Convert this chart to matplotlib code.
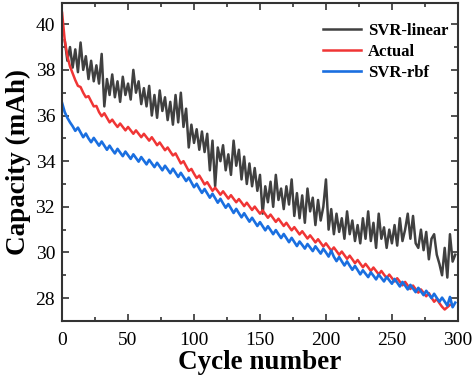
import numpy as np
import matplotlib
matplotlib.use("Agg")
import matplotlib.pyplot as plt
from matplotlib.ticker import MultipleLocator

# Capacity curves (every 2nd cycle)
cycle_actual = np.arange(0, 296, 2)
cap_actual = [
    40.5, 39.3, 38.6, 38.15, 37.85, 37.55, 37.3, 37.25, 37.0, 36.8,
    36.85, 36.62, 36.4, 36.42, 36.15, 35.97, 36.1, 35.9, 35.7, 35.82,
    35.65, 35.5, 35.65, 35.5, 35.35, 35.5, 35.35, 35.2, 35.35, 35.2,
    35.05, 35.2, 35.05, 34.9, 35.05, 34.88, 34.7, 34.82, 34.65, 34.48,
    34.6, 34.42, 34.25, 34.34, 34.12, 33.9, 34.0, 33.78, 33.57, 33.66,
    33.45, 33.26, 33.37, 33.18, 32.98, 33.08, 32.89, 32.7, 32.84, 32.69,
    32.53, 32.68, 32.52, 32.36, 32.51, 32.35, 32.2, 32.34, 32.19, 32.03,
    32.18, 32.02, 31.86, 32.01, 31.85, 31.7, 31.84, 31.68, 31.52, 31.66,
    31.5, 31.34, 31.48, 31.32, 31.16, 31.3, 31.13, 30.97, 31.11, 30.95,
    30.79, 30.93, 30.77, 30.61, 30.75, 30.6, 30.44, 30.58, 30.42, 30.26,
    30.4, 30.24, 30.08, 30.22, 30.06, 29.9, 30.04, 29.88, 29.72, 29.86,
    29.7, 29.53, 29.67, 29.51, 29.35, 29.5, 29.35, 29.19, 29.34, 29.19,
    29.04, 29.19, 29.03, 28.88, 29.03, 28.88, 28.73, 28.87, 28.72, 28.56,
    28.71, 28.55, 28.4, 28.55, 28.39, 28.24, 28.38, 28.23, 28.08, 28.22,
    28.02, 27.84, 27.96, 27.78, 27.62, 27.5, 27.6, 27.7,
]

cycle_rbf = np.arange(0, 300, 2)
cap_rbf = [
    36.55, 36.15, 35.9, 35.7, 35.53, 35.33, 35.47, 35.26, 35.05, 35.21,
    35.0, 34.83, 35.02, 34.85, 34.68, 34.86, 34.68, 34.5, 34.68, 34.5,
    34.34, 34.54, 34.38, 34.22, 34.42, 34.26, 34.1, 34.3, 34.14, 33.98,
    34.18, 34.02, 33.86, 34.06, 33.9, 33.74, 33.93, 33.77, 33.6, 33.8,
    33.64, 33.47, 33.67, 33.49, 33.31, 33.49, 33.31, 33.13, 33.28, 33.07,
    32.86, 33.01, 32.8, 32.61, 32.78, 32.59, 32.4, 32.57, 32.38, 32.18,
    32.35, 32.15, 31.96, 32.12, 31.93, 31.73, 31.91, 31.72, 31.54, 31.72,
    31.53, 31.35, 31.52, 31.34, 31.16, 31.33, 31.15, 30.97, 31.15, 30.98,
    30.8, 30.98, 30.8, 30.63, 30.81, 30.63, 30.45, 30.64, 30.46, 30.28,
    30.48, 30.33, 30.17, 30.37, 30.22, 30.06, 30.27, 30.11, 29.95, 30.16,
    30.0, 29.82, 30.08, 29.81, 29.62, 29.8, 29.61, 29.43, 29.61, 29.42,
    29.24, 29.41, 29.23, 29.04, 29.22, 29.07, 28.92, 29.13, 28.98, 28.82,
    29.03, 28.88, 28.73, 28.93, 28.78, 28.63, 28.84, 28.68, 28.51, 28.71,
    28.55, 28.38, 28.58, 28.42, 28.26, 28.45, 28.29, 28.13, 28.32, 28.16,
    28.0, 28.19, 28.01, 27.84, 28.02, 27.85, 27.67, 28.05, 27.6, 27.8,
]

cycle_linear = np.arange(2, 300, 2)
cap_linear = [
    39.3, 38.4, 39.0, 38.1, 38.9, 37.9, 39.2,
    38.0, 38.6, 37.6, 38.4, 37.5, 38.2, 37.4, 38.7,
    36.4, 37.6, 36.9, 37.8, 36.8, 37.5, 36.6, 37.7, 36.9, 37.4,
    36.7, 38.0, 37.0, 37.5, 36.5, 37.2, 36.4,
    37.3, 36.0, 36.9, 35.9, 37.1, 36.2, 36.8, 35.8,
    36.6, 35.6, 36.9, 35.7, 37.0, 35.5, 36.3,
    34.6, 35.6, 34.8, 35.4, 34.5, 35.3, 34.4, 35.2,
    33.6, 34.9, 32.9, 34.6, 34.0,
    34.7, 33.6, 34.3, 33.4, 34.9, 33.8, 34.5,
    33.2, 34.2, 33.0, 33.9, 32.9, 33.7, 32.7, 33.4,
    31.7, 32.9, 32.2, 33.1, 32.0, 33.4, 32.3, 32.8, 31.9, 32.9, 32.1, 33.2,
    31.6, 32.6, 31.5, 32.5, 31.3, 32.8, 31.8, 32.4, 31.2, 32.3, 31.4, 32.0, 33.2,
    31.0, 31.9, 30.8, 31.7, 30.9, 31.5, 30.6, 31.8, 30.8, 31.4, 30.5, 31.2,
    30.4, 31.5, 30.6, 31.8, 30.5, 31.3, 30.2, 31.7, 30.6, 31.1, 30.2, 31.0, 30.4,
    31.2, 30.3, 31.5, 30.5, 31.0, 31.7, 30.6, 31.6, 30.4, 30.2,
    31.0, 30.1, 30.9, 29.7, 30.6, 30.8, 29.9,
    29.5, 29.0, 30.2, 28.9, 30.8, 29.6, 29.9,
]

plt.rcParams['font.family'] = ['Liberation Serif', 'DejaVu Serif']

fig = plt.figure(figsize=(4.74, 3.78), dpi=100)
ax = fig.add_axes([0.131, 0.151, 0.835, 0.841])

ax.plot(cycle_linear, cap_linear, color='#404040', lw=1.8, label='SVR-linear')
ax.plot(cycle_actual, cap_actual, color='#f03535', lw=1.8, label='Actual')
ax.plot(cycle_rbf, cap_rbf, color='#1a6fe0', lw=1.9, label='SVR-rbf')

ax.set_xlim(0, 300)
ax.set_ylim(27, 40.93)
ax.xaxis.set_major_locator(MultipleLocator(50))
ax.xaxis.set_minor_locator(MultipleLocator(25))
ax.yaxis.set_major_locator(MultipleLocator(2))
ax.yaxis.set_minor_locator(MultipleLocator(1))
ax.tick_params(which='both', direction='in', top=True, right=True,
               width=1.2, color='#333333', labelsize=14)
ax.tick_params(which='major', length=5)
ax.tick_params(which='minor', length=3)
ax.tick_params(axis='x', pad=8)
ax.tick_params(axis='y', pad=5)
for s in ax.spines.values():
    s.set_linewidth(1.5)
    s.set_color('#333333')

ax.set_xlabel('Cycle number', fontsize=19.5, fontweight='bold', labelpad=1)
ax.set_ylabel('Capacity (mAh)', fontsize=19.5, fontweight='bold', labelpad=3)

leg = ax.legend(loc='upper right', bbox_to_anchor=(1.005, 0.975), frameon=False,
                prop={'weight': 'bold', 'size': 12},
                handlelength=2.3, labelspacing=0.3, handletextpad=0.4,
                borderaxespad=0.3)

fig.savefig('out.png', dpi=100)
